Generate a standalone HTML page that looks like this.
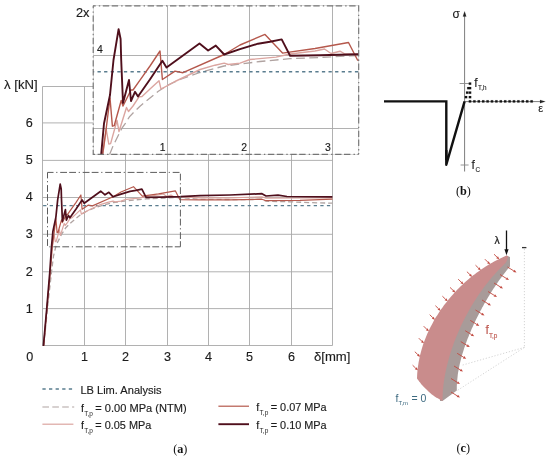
<!DOCTYPE html>
<html lang="en"><head><meta charset="utf-8"><title>Figure</title>
<style>html,body{margin:0;padding:0;background:#fff}svg{display:block}</style>
</head><body>
<svg width="550" height="459" viewBox="0 0 550 459">
<rect width="550" height="459" fill="#fff"/>
<g font-family="Liberation Sans, Arial, sans-serif" fill="#1c1c1c" stroke="#1c1c1c" stroke-width="0.15">
<path d="M42.5 86.5 V345.5 M84.5 86.5 V345.5 M125.5 86.5 V345.5 M167.5 86.5 V345.5 M208.5 86.5 V345.5 M249.5 86.5 V345.5 M291.5 86.5 V345.5 M332.5 86.5 V345.5 M42.5 345.5 H332.5 M42.5 308.6 H332.5 M42.5 271.8 H332.5 M42.5 234.3 H332.5 M42.5 197.5 H332.5 M42.5 160.4 H332.5 M42.5 122.9 H332.5 M42.5 86.5 H332.5" stroke="#a8a8a8" stroke-width="0.9" fill="none"/>
<path d="M43.8 346.0 L47.4 309.0 L51.5 272.0 L53.5 256.0 L55.8 246.8 L57.4 242.6 L59.2 239.1 L61.8 233.8 L63.4 231.6 L65.6 228.0 L68.4 225.1 L70.9 222.7 L75.9 218.6 L79.9 215.3 L84.9 212.1 L90.9 209.3 L101.0 205.8 L113.0 202.6 L121.0 201.6 L131.0 200.3 L146.0 198.9 L161.0 198.3 L176.0 197.5 L180.4 197.4 L200.0 199.3 L240.0 199.6 L262.0 199.4 L266.0 201.2 L290.0 201.8 L310.0 202.6 L332.4 203.2" stroke="#b0a3a1" stroke-width="1.3" stroke-dasharray="5 3" fill="none"/>
<path d="M42.5 205.6 H332.5" stroke="#5a7d8f" stroke-width="1.4" stroke-dasharray="3.3 3.3" stroke-dashoffset="6" fill="none"/>
<path d="M43.6 346.0 L46.9 309.0 L50.2 272.0 L52.3 246.8 L53.4 238.6 L54.0 234.3 L55.3 241.6 L56.2 241.4 L59.4 229.9 L60.4 235.4 L64.2 223.4 L65.2 225.4 L67.4 222.6 L70.4 218.0 L71.9 217.8 L75.9 214.1 L80.4 209.9 L81.4 214.1 L88.4 210.3 L101.0 204.3 L108.5 202.2 L113.1 201.1 L115.1 201.8 L121.0 201.1 L126.0 199.3 L139.0 198.1 L146.0 196.5 L158.5 195.0 L163.3 194.0 L166.5 196.3 L171.0 195.1 L173.5 196.5 L180.4 196.7 L200.0 197.9 L230.0 197.8 L262.0 196.8 L266.0 198.2 L300.0 198.0 L332.4 198.0" stroke="#dba5a0" stroke-width="1.2" fill="none" stroke-linejoin="round"/>
<path d="M43.6 346.0 L46.9 309.0 L50.2 272.0 L52.2 246.8 L53.9 234.6 L55.9 218.6 L57.1 232.7 L58.0 232.5 L61.5 219.8 L62.4 222.6 L66.4 214.6 L67.4 214.6 L70.9 209.6 L75.9 202.6 L80.9 195.0 L82.1 209.3 L88.4 205.1 L92.5 205.9 L113.1 196.8 L121.0 192.0 L133.5 186.7 L142.3 196.1 L158.5 193.8 L175.3 190.8 L179.8 199.6 L180.4 199.7 L200.0 199.8 L230.0 199.9 L262.0 199.2 L266.0 200.7 L300.0 200.3 L332.4 199.2" stroke="#b5584c" stroke-width="1.2" fill="none" stroke-linejoin="round"/>
<path d="M43.4 346.0 L46.7 309.0 L49.8 272.0 L51.5 246.8 L52.9 231.4 L55.9 217.1 L57.7 199.6 L60.2 184.1 L61.2 189.0 L61.5 199.6 L62.4 221.1 L65.4 209.6 L66.4 220.1 L68.4 215.5 L69.9 217.8 L75.9 209.3 L82.1 199.9 L84.2 203.3 L100.7 191.2 L105.0 194.8 L108.9 192.3 L113.1 196.8 L121.0 194.1 L130.0 191.4 L136.0 190.4 L141.9 189.2 L146.1 197.4 L161.0 197.1 L180.4 196.6 L200.0 195.6 L230.0 195.0 L262.0 193.7 L266.0 196.0 L278.0 195.2 L287.0 196.5 L332.4 196.8" stroke="#4f0f1c" stroke-width="1.7" fill="none" stroke-linejoin="round"/>
<path d="M47.5 172.4 H180.4 V246.8 M47.5 172.4 V246.8 H180.4" fill="none" stroke="#5c5c5c" stroke-width="1" stroke-dasharray="6.8 2.2 6.8 2.7 1.2 2.8" stroke-dashoffset="9.8"/>
<rect x="93.2" y="5.8" width="265.5" height="148.5" fill="#fff"/>
<path d="M167.5 5.8 V154.3 M249.5 5.8 V154.3 M332.5 5.8 V154.3 M93.2 55.5 H358.7 M93.2 128.5 H358.7" stroke="#a8a8a8" stroke-width="0.9" fill="none"/>
<path d="M109.7 154.3 L113.0 146.0 L116.5 139.0 L121.8 128.4 L125.0 124.0 L129.4 116.8 L135.0 111.0 L140.0 106.2 L150.0 98.0 L158.0 91.5 L168.0 85.1 L180.0 79.5 L200.0 72.5 L224.0 66.0 L240.0 64.1 L260.0 61.5 L290.0 58.7 L320.0 57.5 L350.0 55.9 L358.7 55.6" stroke="#b0a3a1" stroke-width="1.3" stroke-dasharray="8.8 4.4" fill="none"/>
<path d="M93.2 71.8 H358.7" stroke="#5a7d8f" stroke-width="1.5" stroke-dasharray="3.3 3.3" stroke-dashoffset="2.3" fill="none"/>
<path d="M102.8 154.3 L105.0 138.0 L106.2 129.3 L108.8 144.0 L110.6 143.6 L117.0 120.5 L119.0 131.5 L126.5 107.5 L128.5 111.5 L133.0 106.0 L139.0 96.8 L142.0 96.5 L150.0 89.0 L159.0 80.7 L161.0 89.1 L175.0 81.5 L200.1 69.5 L215.0 65.2 L224.2 63.1 L228.2 64.5 L240.0 63.1 L250.0 59.5 L276.0 57.1 L290.0 54.0 L315.0 51.0 L324.5 49.0 L331.0 53.5 L340.0 51.2 L345.0 54.0 L358.7 54.3" stroke="#dba5a0" stroke-width="1.4" fill="none" stroke-linejoin="round"/>
<path d="M102.6 154.3 L106.0 130.0 L110.0 98.0 L112.4 126.2 L114.2 125.7 L121.2 100.5 L123.0 106.0 L131.0 90.0 L133.0 90.0 L140.0 80.1 L150.0 66.0 L160.0 51.0 L162.4 79.5 L175.0 71.1 L183.0 72.7 L224.2 54.5 L240.0 45.0 L265.0 34.4 L282.5 53.1 L315.0 48.5 L348.5 42.5 L357.5 60.0 L358.7 60.3" stroke="#b5584c" stroke-width="1.4" fill="none" stroke-linejoin="round"/>
<path d="M101.2 154.3 L104.0 123.5 L110.0 95.0 L113.5 60.0 L118.6 29.2 L120.6 39.0 L121.2 60.0 L123.0 103.0 L129.0 80.0 L131.0 101.0 L135.0 91.8 L138.0 96.5 L149.9 79.5 L162.4 60.7 L166.5 67.5 L199.5 43.4 L208.1 50.5 L215.8 45.6 L224.2 54.5 L240.0 49.1 L258.0 43.7 L270.0 41.7 L281.7 39.4 L290.1 55.7 L320.0 55.2 L358.7 54.2" stroke="#4f0f1c" stroke-width="1.9" fill="none" stroke-linejoin="round"/>
<path d="M93.2 5.8 H358.7 V154.3 M93.2 5.8 V154.3 H358.7" fill="none" stroke="#757575" stroke-width="1.15" stroke-dasharray="6.4 2.5 6.4 3.1 1.4 2.6" stroke-dashoffset="12.8"/>
<text x="96.9" y="52.9" font-size="10.4">4</text>
<text x="159.8" y="150.6" font-size="10.4">1</text>
<text x="241.3" y="150.6" font-size="10.4">2</text>
<text x="324.9" y="150.6" font-size="10.4">3</text>
<text x="76" y="17.2" font-size="12.8">2x</text>
<text x="4" y="89.2" font-size="12.9" textLength="33.6" lengthAdjust="spacingAndGlyphs">λ [kN]</text>
<text x="29.3" y="312.5" font-size="12.6" text-anchor="middle">1</text>
<text x="29.3" y="275.7" font-size="12.6" text-anchor="middle">2</text>
<text x="29.3" y="238.2" font-size="12.6" text-anchor="middle">3</text>
<text x="29.3" y="201.4" font-size="12.6" text-anchor="middle">4</text>
<text x="29.3" y="164.3" font-size="12.6" text-anchor="middle">5</text>
<text x="29.3" y="126.8" font-size="12.6" text-anchor="middle">6</text>
<text x="29.8" y="361" font-size="12.6" text-anchor="middle">0</text>
<text x="84.4" y="361" font-size="12.6" text-anchor="middle">1</text>
<text x="125.4" y="361" font-size="12.6" text-anchor="middle">2</text>
<text x="167.4" y="361" font-size="12.6" text-anchor="middle">3</text>
<text x="208.4" y="361" font-size="12.6" text-anchor="middle">4</text>
<text x="249.4" y="361" font-size="12.6" text-anchor="middle">5</text>
<text x="291.4" y="361" font-size="12.6" text-anchor="middle">6</text>
<text x="314" y="361" font-size="12.8" textLength="36.4" lengthAdjust="spacingAndGlyphs">δ[mm]</text>
<path d="M42.4 389 H72.4" stroke="#5a7d8f" stroke-width="1.4" stroke-dasharray="3.3 3.3" fill="none"/>
<path d="M42.4 407 H74.2" stroke="#b0a3a1" stroke-width="1.1" stroke-dasharray="6.6 3.3" fill="none"/>
<path d="M42.4 424.2 H73.4" stroke="#dba5a0" stroke-width="1.2" fill="none"/>
<path d="M218.4 406.2 H249" stroke="#b5584c" stroke-width="1.2" fill="none"/>
<path d="M218.4 424.2 H249" stroke="#4f0f1c" stroke-width="1.9" fill="none"/>
<text x="80.4" y="393.8" font-size="10.7" textLength="81.2" lengthAdjust="spacingAndGlyphs">LB Lim. Analysis</text>
<text x="80.9" y="411.6" font-size="10.7">f<tspan font-size="6.5" dy="3.9" dx="0.3" stroke="none">T,p</tspan></text><text x="95.3" y="411.6" font-size="10.7" textLength="91.3" lengthAdjust="spacingAndGlyphs">= 0.00 MPa (NTM)</text>
<text x="80.9" y="429.0" font-size="10.7">f<tspan font-size="6.5" dy="3.9" dx="0.3" stroke="none">T,p</tspan></text><text x="95.3" y="429.0" font-size="10.7" textLength="56.0" lengthAdjust="spacingAndGlyphs">= 0.05 MPa</text>
<text x="256.3" y="410.7" font-size="10.7">f<tspan font-size="6.5" dy="3.9" dx="0.3" stroke="none">T,p</tspan></text><text x="270.7" y="410.7" font-size="10.7" textLength="56.0" lengthAdjust="spacingAndGlyphs">= 0.07 MPa</text>
<text x="256.3" y="428.8" font-size="10.7">f<tspan font-size="6.5" dy="3.9" dx="0.3" stroke="none">T,p</tspan></text><text x="270.7" y="428.8" font-size="10.7" textLength="56.0" lengthAdjust="spacingAndGlyphs">= 0.10 MPa</text>
</g>
<g font-family="Liberation Serif, Times New Roman, serif" font-size="12.2" fill="#111" text-anchor="middle">
<text x="180.3" y="452.5">(<tspan font-weight="bold">a</tspan>)</text>
<text x="463.4" y="195.2">(<tspan font-weight="bold">b</tspan>)</text>
<text x="463.3" y="451.8">(<tspan font-weight="bold">c</tspan>)</text>
</g>
<g font-family="Liberation Sans, Arial, sans-serif" fill="#222" stroke="#222" stroke-width="0.12">
<path d="M464.6 171.5 V14" stroke="#5a5a5a" stroke-width="0.8" fill="none"/>
<path d="M464.6 11.3 L462.9 16.6 L466.3 16.6 Z" fill="#222"/>
<path d="M464.6 101.6 H541" stroke="#5a5a5a" stroke-width="0.8" fill="none"/>
<path d="M545.4 101.6 L540 99.9 L540 103.3 Z" fill="#222"/>
<path d="M459.6 83.5 H469.4 M460.6 165 H468.6" stroke="#8a8a8a" stroke-width="0.9" fill="none"/>
<path d="M384 101.4 H446.3 V160" stroke="#111" stroke-width="2.4" fill="none" stroke-linejoin="miter"/>
<path d="M446.3 150 V164.7 L464.6 101.4" stroke="#111" stroke-width="2.4" fill="none" stroke-linejoin="round"/>
<path d="M468.8 100.3h2.4v2.3h-2.4z M473.2 100.3h2.4v2.3h-2.4z M477.6 100.3h2.4v2.3h-2.4z M482.0 100.3h2.4v2.3h-2.4z M486.4 100.3h2.4v2.3h-2.4z M490.8 100.3h2.4v2.3h-2.4z M495.2 100.3h2.4v2.3h-2.4z M499.6 100.3h2.4v2.3h-2.4z M504.0 100.3h2.4v2.3h-2.4z M508.4 100.3h2.4v2.3h-2.4z M512.8 100.3h2.4v2.3h-2.4z M517.2 100.3h2.4v2.3h-2.4z M521.6 100.3h2.4v2.3h-2.4z M526.0 100.3h2.4v2.3h-2.4z M530.4 100.3h2.4v2.3h-2.4z M468.8 82.5h2.4v2.3h-2.4z M468.8 87.0h2.4v2.3h-2.4z M467.2 87.0h2.4v2.3h-2.4z M468.8 91.5h2.4v2.3h-2.4z M466.0 91.5h2.4v2.3h-2.4z M468.8 96.0h2.4v2.3h-2.4z M464.8 96.0h2.4v2.3h-2.4z" fill="#111"/>
<text x="452.4" y="18.2" font-size="12">σ</text>
<text x="538.2" y="111.6" font-size="11">ε</text>
<text x="474.2" y="86.8" font-size="12">f<tspan font-size="6.3" dy="3.4" dx="0.5">T,h</tspan></text>
<text x="471.6" y="168.8" font-size="12">f<tspan font-size="6.3" dy="3" dx="0.5">C</tspan></text>
</g>
<g>
<path d="M524.4 249 V347.4 M524.4 347.4 L456.8 390.8 M524.4 347.4 L461 365.5" stroke="#cfcfcf" stroke-width="0.9" stroke-dasharray="1.2 1.8" fill="none"/>
<path d="M522 247.6 H526.4" stroke="#333" stroke-width="1.3"/>
<path d="M506.5 255.5 L510.0 257.0 L510.0 266.5 L510.0 266.5 L508.7 268.0 L507.4 269.6 L506.2 271.1 L504.9 272.7 L503.7 274.2 L502.5 275.8 L501.3 277.4 L500.1 279.0 L499.0 280.6 L497.8 282.2 L496.7 283.9 L495.6 285.5 L494.5 287.2 L493.4 288.8 L492.3 290.5 L491.2 292.2 L490.2 293.8 L489.2 295.5 L488.1 297.2 L487.1 299.0 L486.1 300.7 L485.1 302.4 L484.1 304.1 L483.2 305.9 L482.2 307.6 L481.3 309.4 L480.3 311.1 L479.4 312.9 L478.5 314.7 L477.6 316.4 L476.7 318.2 L475.8 320.0 L475.0 321.8 L474.1 323.6 L473.3 325.4 L472.5 327.2 L471.6 329.1 L470.9 330.9 L470.1 332.7 L469.3 334.6 L468.6 336.4 L467.8 338.3 L467.1 340.1 L466.4 342.0 L465.7 343.9 L465.1 345.7 L464.4 347.6 L463.8 349.5 L463.2 351.4 L462.6 353.3 L462.0 355.2 L461.5 357.1 L461.0 359.0 L460.5 360.9 L460.0 362.9 L459.6 364.8 L459.2 366.7 L458.8 368.7 L458.5 370.6 L458.1 372.6 L457.8 374.5 L457.6 376.5 L457.4 378.5 L457.2 380.5 L457.0 382.5 L456.9 384.5 L456.8 386.5 L456.8 388.5 L456.8 390.5 L456.8 390.5 L442.5 401.0 L440.0 401.0 L440.0 398.7 L440.1 396.5 L440.2 394.3 L440.3 392.0 L440.5 389.8 L440.7 387.5 L440.9 385.3 L441.2 383.1 L441.5 380.8 L441.9 378.6 L442.2 376.4 L442.6 374.2 L443.1 372.0 L443.5 369.8 L444.0 367.6 L444.5 365.4 L445.1 363.2 L445.7 361.0 L446.3 358.8 L446.9 356.6 L447.5 354.5 L448.2 352.3 L448.9 350.2 L449.6 348.0 L450.4 345.9 L451.1 343.8 L451.9 341.6 L452.7 339.5 L453.5 337.4 L454.4 335.3 L455.3 333.2 L456.2 331.2 L457.1 329.1 L458.0 327.0 L458.9 325.0 L459.9 323.0 L460.9 320.9 L461.9 318.9 L462.9 316.9 L464.0 314.9 L465.1 313.0 L466.2 311.0 L467.3 309.0 L468.4 307.1 L469.5 305.2 L470.7 303.2 L471.9 301.3 L473.1 299.4 L474.3 297.5 L475.5 295.7 L476.8 293.8 L478.1 292.0 L479.4 290.2 L480.7 288.3 L482.0 286.5 L483.4 284.8 L484.8 283.0 L486.2 281.2 L487.6 279.5 L489.0 277.8 L490.5 276.1 L492.0 274.4 L493.5 272.7 L495.0 271.0 L496.6 269.4 L498.2 267.8 L499.8 266.2 L501.4 264.6 L503.1 263.0 L504.3 260.8 L505.1 258.5 L505.7 256.3 Z" fill="#a89b99"/>
<path d="M506.5 255.5 L504.4 256.4 L502.3 257.4 L500.2 258.4 L498.2 259.4 L496.1 260.5 L494.1 261.5 L492.1 262.7 L490.1 263.8 L488.1 265.0 L486.1 266.2 L484.2 267.5 L482.3 268.8 L480.4 270.1 L478.5 271.4 L476.6 272.8 L474.8 274.2 L472.9 275.6 L471.1 277.1 L469.3 278.5 L467.6 280.1 L465.8 281.6 L464.1 283.1 L462.4 284.7 L460.7 286.3 L459.0 288.0 L457.4 289.6 L455.8 291.3 L454.2 293.0 L452.7 294.7 L451.1 296.5 L449.6 298.3 L448.1 300.1 L446.7 301.9 L445.2 303.7 L443.8 305.6 L442.5 307.4 L441.1 309.3 L439.8 311.3 L438.5 313.2 L437.3 315.2 L436.0 317.1 L434.8 319.1 L433.7 321.1 L432.6 323.2 L431.5 325.2 L430.4 327.3 L429.4 329.3 L428.4 331.4 L427.4 333.5 L426.5 335.7 L425.7 337.8 L424.8 339.9 L424.0 342.1 L423.2 344.3 L422.5 346.5 L421.8 348.7 L421.2 350.9 L420.6 353.2 L420.0 355.4 L419.5 357.7 L419.1 359.9 L418.6 362.2 L418.3 364.5 L417.9 366.8 L417.6 369.1 L417.4 371.5 L417.2 373.8 L417.1 376.1 L417.0 378.5 L417.2 378.8 L417.5 379.2 L417.9 379.7 L418.3 380.2 L418.7 380.8 L419.1 381.4 L419.6 382.0 L420.1 382.6 L420.6 383.3 L421.1 383.9 L421.5 384.5 L422.0 385.0 L422.5 385.5 L422.9 386.0 L423.4 386.6 L423.9 387.1 L424.4 387.6 L424.9 388.1 L425.4 388.6 L426.0 389.1 L426.5 389.6 L427.0 390.1 L427.5 390.5 L428.0 391.0 L428.5 391.5 L429.0 391.9 L429.4 392.3 L429.9 392.7 L430.4 393.2 L430.8 393.6 L431.3 394.0 L431.8 394.4 L432.3 394.8 L432.9 395.2 L433.4 395.6 L434.0 396.0 L434.6 396.4 L435.4 396.9 L436.1 397.4 L437.0 397.9 L437.8 398.3 L438.6 398.8 L439.4 399.3 L440.2 399.7 L440.9 400.1 L441.5 400.5 L442.1 400.8 L442.5 401.0 L442.5 401.0 L442.5 398.7 L442.6 396.5 L442.7 394.3 L442.8 392.0 L443.0 389.8 L443.2 387.5 L443.4 385.3 L443.7 383.1 L444.0 380.8 L444.4 378.6 L444.7 376.4 L445.1 374.2 L445.6 372.0 L446.0 369.8 L446.5 367.6 L447.0 365.4 L447.6 363.2 L448.2 361.0 L448.8 358.8 L449.4 356.6 L450.0 354.5 L450.7 352.3 L451.4 350.2 L452.1 348.0 L452.9 345.9 L453.6 343.8 L454.4 341.6 L455.2 339.5 L456.0 337.4 L456.9 335.3 L457.8 333.2 L458.7 331.2 L459.6 329.1 L460.5 327.0 L461.4 325.0 L462.4 323.0 L463.4 320.9 L464.4 318.9 L465.4 316.9 L466.5 314.9 L467.6 313.0 L468.7 311.0 L469.8 309.0 L470.9 307.1 L472.0 305.2 L473.2 303.2 L474.4 301.3 L475.6 299.4 L476.8 297.5 L478.0 295.7 L479.3 293.8 L480.6 292.0 L481.9 290.2 L483.2 288.3 L484.5 286.5 L485.9 284.8 L487.3 283.0 L488.7 281.2 L490.1 279.5 L491.5 277.8 L493.0 276.1 L494.5 274.4 L496.0 272.7 L497.5 271.0 L499.1 269.4 L500.7 267.8 L502.3 266.2 L503.9 264.6 L505.6 263.0 L506.8 260.8 L507.6 258.5 L508.2 256.3 Z" fill="#c98c8c"/>
<path d="M494.0 254.2 L497.1 257.2" stroke="#c24a40" stroke-width="0.9" fill="none"/><path d="M499.3 259.3 L496.2 258.2 L498.0 256.3 Z" fill="#c24a40"/>
<path d="M484.9 259.2 L487.9 262.2" stroke="#c24a40" stroke-width="0.9" fill="none"/><path d="M490.1 264.3 L487.0 263.2 L488.8 261.3 Z" fill="#c24a40"/>
<path d="M475.5 265.2 L478.6 268.2" stroke="#c24a40" stroke-width="0.9" fill="none"/><path d="M480.8 270.3 L477.7 269.2 L479.5 267.3 Z" fill="#c24a40"/>
<path d="M466.9 271.7 L470.0 274.7" stroke="#c24a40" stroke-width="0.9" fill="none"/><path d="M472.1 276.8 L469.1 275.7 L470.9 273.8 Z" fill="#c24a40"/>
<path d="M458.2 279.2 L461.3 282.2" stroke="#c24a40" stroke-width="0.9" fill="none"/><path d="M463.5 284.3 L460.4 283.2 L462.2 281.3 Z" fill="#c24a40"/>
<path d="M450.0 287.4 L453.1 290.4" stroke="#c24a40" stroke-width="0.9" fill="none"/><path d="M455.3 292.5 L452.2 291.4 L454.0 289.5 Z" fill="#c24a40"/>
<path d="M442.4 296.2 L445.5 299.2" stroke="#c24a40" stroke-width="0.9" fill="none"/><path d="M447.7 301.3 L444.6 300.2 L446.4 298.3 Z" fill="#c24a40"/>
<path d="M435.4 305.7 L438.5 308.7" stroke="#c24a40" stroke-width="0.9" fill="none"/><path d="M440.6 310.8 L437.6 309.7 L439.4 307.8 Z" fill="#c24a40"/>
<path d="M429.7 314.7 L432.8 317.7" stroke="#c24a40" stroke-width="0.9" fill="none"/><path d="M434.9 319.8 L431.9 318.7 L433.7 316.8 Z" fill="#c24a40"/>
<path d="M423.7 326.2 L426.7 329.2" stroke="#c24a40" stroke-width="0.9" fill="none"/><path d="M428.9 331.3 L425.8 330.2 L427.6 328.3 Z" fill="#c24a40"/>
<path d="M418.8 338.2 L421.8 341.2" stroke="#c24a40" stroke-width="0.9" fill="none"/><path d="M424.0 343.3 L420.9 342.2 L422.7 340.3 Z" fill="#c24a40"/>
<path d="M414.8 351.7 L417.9 354.7" stroke="#c24a40" stroke-width="0.9" fill="none"/><path d="M420.1 356.8 L417.0 355.7 L418.8 353.8 Z" fill="#c24a40"/>
<path d="M412.6 365.2 L415.7 368.2" stroke="#c24a40" stroke-width="0.9" fill="none"/><path d="M417.9 370.3 L414.8 369.2 L416.6 367.3 Z" fill="#c24a40"/>
<path d="M507.5 267.0 L513.8 270.9" stroke="#c24a40" stroke-width="0.9" fill="none"/><path d="M516.5 272.5 L513.1 272.1 L514.5 269.7 Z" fill="#c24a40"/>
<path d="M500.0 274.5 L506.3 278.4" stroke="#c24a40" stroke-width="0.9" fill="none"/><path d="M509.0 280.0 L505.6 279.6 L507.0 277.2 Z" fill="#c24a40"/>
<path d="M494.0 283.0 L500.3 286.9" stroke="#c24a40" stroke-width="0.9" fill="none"/><path d="M503.0 288.5 L499.6 288.1 L501.0 285.7 Z" fill="#c24a40"/>
<path d="M488.0 291.5 L494.3 295.4" stroke="#c24a40" stroke-width="0.9" fill="none"/><path d="M497.0 297.0 L493.6 296.6 L495.0 294.2 Z" fill="#c24a40"/>
<path d="M482.0 300.0 L488.3 303.9" stroke="#c24a40" stroke-width="0.9" fill="none"/><path d="M491.0 305.5 L487.6 305.1 L489.0 302.7 Z" fill="#c24a40"/>
<path d="M475.5 310.0 L481.8 313.9" stroke="#c24a40" stroke-width="0.9" fill="none"/><path d="M484.5 315.5 L481.1 315.1 L482.5 312.7 Z" fill="#c24a40"/>
<path d="M470.3 320.4 L476.6 324.3" stroke="#c24a40" stroke-width="0.9" fill="none"/><path d="M479.3 325.9 L475.9 325.5 L477.3 323.1 Z" fill="#c24a40"/>
<path d="M465.2 330.7 L471.5 334.6" stroke="#c24a40" stroke-width="0.9" fill="none"/><path d="M474.2 336.2 L470.8 335.8 L472.2 333.4 Z" fill="#c24a40"/>
<path d="M460.8 341.6 L467.1 345.5" stroke="#c24a40" stroke-width="0.9" fill="none"/><path d="M469.8 347.1 L466.4 346.7 L467.8 344.3 Z" fill="#c24a40"/>
<path d="M457.2 353.3 L463.5 357.2" stroke="#c24a40" stroke-width="0.9" fill="none"/><path d="M466.2 358.8 L462.8 358.4 L464.2 356.0 Z" fill="#c24a40"/>
<path d="M454.0 366.0 L460.3 369.9" stroke="#c24a40" stroke-width="0.9" fill="none"/><path d="M463.0 371.5 L459.6 371.1 L461.0 368.7 Z" fill="#c24a40"/>
<path d="M451.0 378.5 L457.3 382.4" stroke="#c24a40" stroke-width="0.9" fill="none"/><path d="M460.0 384.0 L456.6 383.6 L458.0 381.2 Z" fill="#c24a40"/>
<path d="M451.0 392.0 L457.3 395.9" stroke="#c24a40" stroke-width="0.9" fill="none"/><path d="M460.0 397.5 L456.6 397.1 L458.0 394.7 Z" fill="#c24a40"/>
<path d="M506.5 230.5 V250" stroke="#111" stroke-width="1.3"/>
<path d="M506.5 255.3 L504.4 249.3 L508.6 249.3 Z" fill="#111"/>
<text x="494.5" y="243.6" font-family="Liberation Sans, Arial, sans-serif" font-size="10.4" fill="#1a1a1a" stroke="#1a1a1a" stroke-width="0.2">λ</text>
<text x="485.5" y="334" font-family="Liberation Sans, Arial, sans-serif" font-size="12.2" fill="#bf5a52" stroke="#bf5a52" stroke-width="0.15">f<tspan font-size="6.4" dy="4.2">T,p</tspan></text>
<text x="395.6" y="401.6" font-family="Liberation Sans, Arial, sans-serif" font-size="10.5" fill="#3d6a80">f<tspan font-size="5.9" dy="3.2">T,m</tspan><tspan dy="-3.2" dx="0.6"> = 0</tspan></text>
</g>
</svg>
</body></html>
